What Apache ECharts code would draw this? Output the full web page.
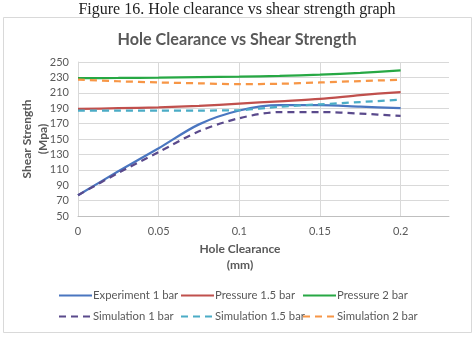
<!DOCTYPE html>
<html>
<head>
<meta charset="utf-8">
<script src="https://cdn.jsdelivr.net/npm/echarts@6/dist/echarts.min.js"></script>
<style>
  html, body { margin: 0; padding: 0; background: #ffffff; }
  #chart { width: 474px; height: 343px; }
</style>
</head>
<body>
<div id="chart"></div>
<script>
// Hole clearance (mm) sample positions
const clearance = [0, 0.025, 0.05, 0.075, 0.1, 0.125, 0.15, 0.175, 0.2];

// Shear strength (MPa) for each test / simulation
const experiment1 = [77, 108, 138, 169, 187, 194, 194, 192, 190];
const pressure15 = [189, 190, 191, 193, 196, 199, 202, 207, 211];
const pressure2 = [229, 229.3, 229.8, 230.4, 231, 232, 233.5, 236, 239];
const simulation1 = [77, 106, 133, 160, 177, 185, 185, 183, 180];
const simulation15 = [187, 187, 187, 187, 187.5, 192, 195, 198, 201];
const simulation2 = [227, 225, 223.4, 222.3, 221.3, 221.7, 223.4, 225.2, 227];

const seriesNames = [
  'Experiment 1 bar', 'Pressure 1.5 bar', 'Pressure 2 bar',
  'Simulation 1 bar', 'Simulation 1.5 bar', 'Simulation 2 bar'
];
const seriesValues = [experiment1, pressure15, pressure2, simulation1, simulation15, simulation2];
const seriesColors = ['#4a76c0', '#c0504d', '#27a844', '#5a4a8c', '#4bacc6', '#f79646'];
const seriesDashed = [false, false, false, true, true, true];

const FONT = 'Lato, "Open Sans", sans-serif';
const GRAY = '#595959';

const chart = echarts.init(document.getElementById('chart'), null, { renderer: 'canvas' });

const series = seriesNames.map((name, i) => ({
  name: name,
  type: 'line',
  smooth: 0.3,
  showSymbol: false,
  symbol: 'none',
  data: clearance.map((x, j) => [x, seriesValues[i][j]]),
  lineStyle: {
    color: seriesColors[i],
    width: 2.25,
    type: seriesDashed[i] ? [7, 5] : 'solid'
  },
  itemStyle: { color: seriesColors[i] },
  z: 3
}));

// one legend per entry so the entries sit in aligned columns
const legendCols = [58, 180, 302];
const legendRows = [290, 311];
const legends = seriesNames.map((name, i) => ({
  data: [name],
  left: legendCols[i % 3],
  top: legendRows[Math.floor(i / 3)],
  icon: 'inherit',
  itemWidth: 33,
  itemHeight: 14,
  itemGap: 0,
  padding: 0,
  itemStyle: { opacity: 0 },
  textStyle: { fontFamily: FONT, fontSize: 11.3, color: GRAY, padding: [0, 0, 0, -4] }
}));

chart.setOption({
  animation: false,
  backgroundColor: '#ffffff',
  title: [
    {
      text: 'Figure 16. Hole clearance vs shear strength graph',
      left: 'center',
      top: -3,
      textStyle: { fontFamily: '"Liberation Serif", serif', fontSize: 16, fontWeight: 'normal', color: '#222222' }
    },
    {
      text: 'Hole Clearance vs Shear Strength',
      left: 'center',
      top: 27,
      textStyle: { fontFamily: FONT, fontSize: 16.2, fontWeight: 'bold', color: GRAY }
    }
  ],
  graphic: [
    {
      type: 'rect',
      shape: { x: 3.5, y: 17.5, width: 468, height: 315 },
      style: { fill: null, stroke: '#d9d9d9', lineWidth: 1 },
      z: -1
    }
  ],
  legend: legends,
  grid: { left: 78, right: 25, top: 62, bottom: 127, containLabel: false },
  xAxis: {
    type: 'value',
    min: 0,
    max: 0.23,
    interval: 0.05,
    name: 'Hole Clearance\n(mm)',
    nameLocation: 'middle',
    nameGap: 25,
    nameMoveOverlap: false,
    nameTextStyle: {
      fontFamily: FONT, fontSize: 12, fontWeight: 'bold', color: GRAY,
      lineHeight: 16, padding: [0, 47, 0, 0]
    },
    axisLine: { show: true, lineStyle: { color: '#bfbfbf', width: 1 } },
    axisTick: { show: false },
    splitLine: { show: true, showMaxLine: false, lineStyle: { color: '#d9d9d9', width: 1 } },
    axisLabel: {
      fontFamily: FONT, fontSize: 11, color: GRAY, margin: 10,
      showMaxLabel: false,
      formatter: v => (Math.abs(v * 20 - Math.round(v * 20)) < 1e-6 ? String(+v.toFixed(2)) : '')
    }
  },
  yAxis: {
    type: 'value',
    min: 50,
    max: 250,
    interval: 20,
    name: 'Shear Strength\n(Mpa)',
    nameLocation: 'middle',
    nameGap: 27,
    nameMoveOverlap: false,
    nameTextStyle: { fontFamily: FONT, fontSize: 12, fontWeight: 'bold', color: GRAY, lineHeight: 16 },
    axisLine: { show: true, lineStyle: { color: '#d9d9d9', width: 1 } },
    axisTick: { show: false },
    splitLine: { show: true, lineStyle: { color: '#d9d9d9', width: 1 } },
    axisLabel: { fontFamily: FONT, fontSize: 11, color: GRAY, margin: 9 }
  },
  series: series
});
</script>
</body>
</html>
